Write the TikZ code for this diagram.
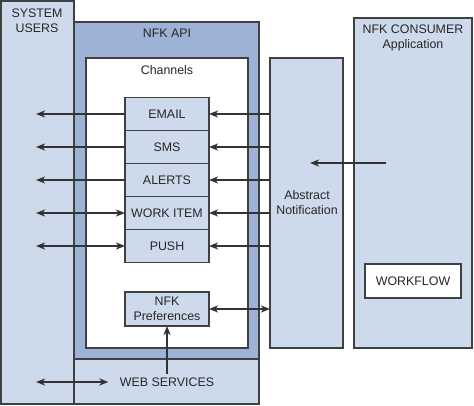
\documentclass[tikz,border=0pt]{standalone}
\usepackage{fontspec}
\setmainfont{Liberation Sans}
\usetikzlibrary{arrows.meta}

\definecolor{lightblue}{RGB}{205,218,236}
\definecolor{midblue}{RGB}{158,178,216}
\definecolor{edgegray}{RGB}{64,64,64}
\definecolor{arrowgray}{RGB}{51,51,51}

\begin{document}
\begin{tikzpicture}[x=1pt, y=-1pt,
	box/.style={draw=edgegray, line width=1.2pt, rectangle, inner sep=0pt, outer sep=0pt, anchor=north west},
	txt/.style={font=\fontsize{12.4}{15}\selectfont, align=center, text=black!85},
	arr/.style={draw=arrowgray, line width=1.8pt, -{Stealth[length=9pt,width=7pt,inset=2.5pt]}},
	arrboth/.style={draw=arrowgray, line width=1.8pt, {Stealth[length=9pt,width=7pt,inset=2.5pt]}-{Stealth[length=9pt,width=7pt,inset=2.5pt]}}]

	\useasboundingbox (0,0) rectangle (474,406);

	% ---- parameters

	\def\chtop{97.5}
	\def\chstep{33}

	% ---- coordinates

	\coordinate (uline) at (36,0);
	\coordinate (cstart) at (386,163);
	\coordinate (cend) at (310,163);

	% ---- containers

	\node[box, fill=lightblue, minimum width=73pt, minimum height=403pt] (users) at (1,1) {};
	\node[box, fill=midblue, minimum width=185pt, minimum height=337pt] (api) at (74,22) {};
	\node[box, fill=lightblue, minimum width=185pt, minimum height=45pt] (websvc) at (74,359) {};
	\node[box, fill=white, minimum width=162pt, minimum height=290pt] (channels) at (86,58) {};
	\node[box, fill=lightblue, minimum width=73pt, minimum height=290pt] (abstract) at (270,58) {};
	\node[box, fill=lightblue, minimum width=118pt, minimum height=330pt] (consumer) at (354,18) {};

	% ---- channel boxes

	\foreach \i/\name in {1/EMAIL,2/SMS,3/ALERTS,4/WORK ITEM,5/PUSH} {
		\node[box, txt, fill=lightblue, minimum width=84pt, minimum height=\chstep pt] (ch\i) at (125,{\chtop+\chstep*(\i-1)}) {\name};
	}

	\node[box, txt, fill=lightblue, minimum width=84pt, minimum height=34pt] (prefs) at (125,292) {NFK\\Preferences};
	\node[box, txt, fill=white, minimum width=96pt, minimum height=34pt] (workflow) at (365,264) {WORKFLOW};

	% ---- labels

	\node[txt] (userslbl) at (37,20.5) {SYSTEM\\USERS};
	\node[txt] (apilbl) at (167,33) {NFK API};
	\node[txt] (chlbl) at (167,70) {Channels};
	\node[txt] (abslbl) at (307,202.5) {Abstract\\Notification};
	\node[txt] (conslbl) at (413,37.5) {NFK CONSUMER\\Application};
	\node[txt] (ws) at (167,382) {WEB SERVICES};

	% ---- arrows to users

	\foreach \i in {1,2,3} { \draw[arr] (ch\i.west) -- (ch\i.west -| uline); }
	\foreach \i in {4,5} { \draw[arrboth] (ch\i.west -| uline) -- (ch\i.west); }

	% ---- arrows from abstract notification

	\foreach \i in {1,...,5} { \draw[arr] (ch\i.east -| abstract.west) -- (ch\i.east); }

	\draw[arrboth] (prefs.east) -- (prefs.east -| abstract.west);
	\draw[arr] (cstart) -- (cend);

	% ---- web services

	\draw[arrboth, shorten >=8pt] (ws.west -| uline) -- (ws.west);
	\draw[arr] (ws.north) -- (prefs.south);

\end{tikzpicture}
\end{document}
